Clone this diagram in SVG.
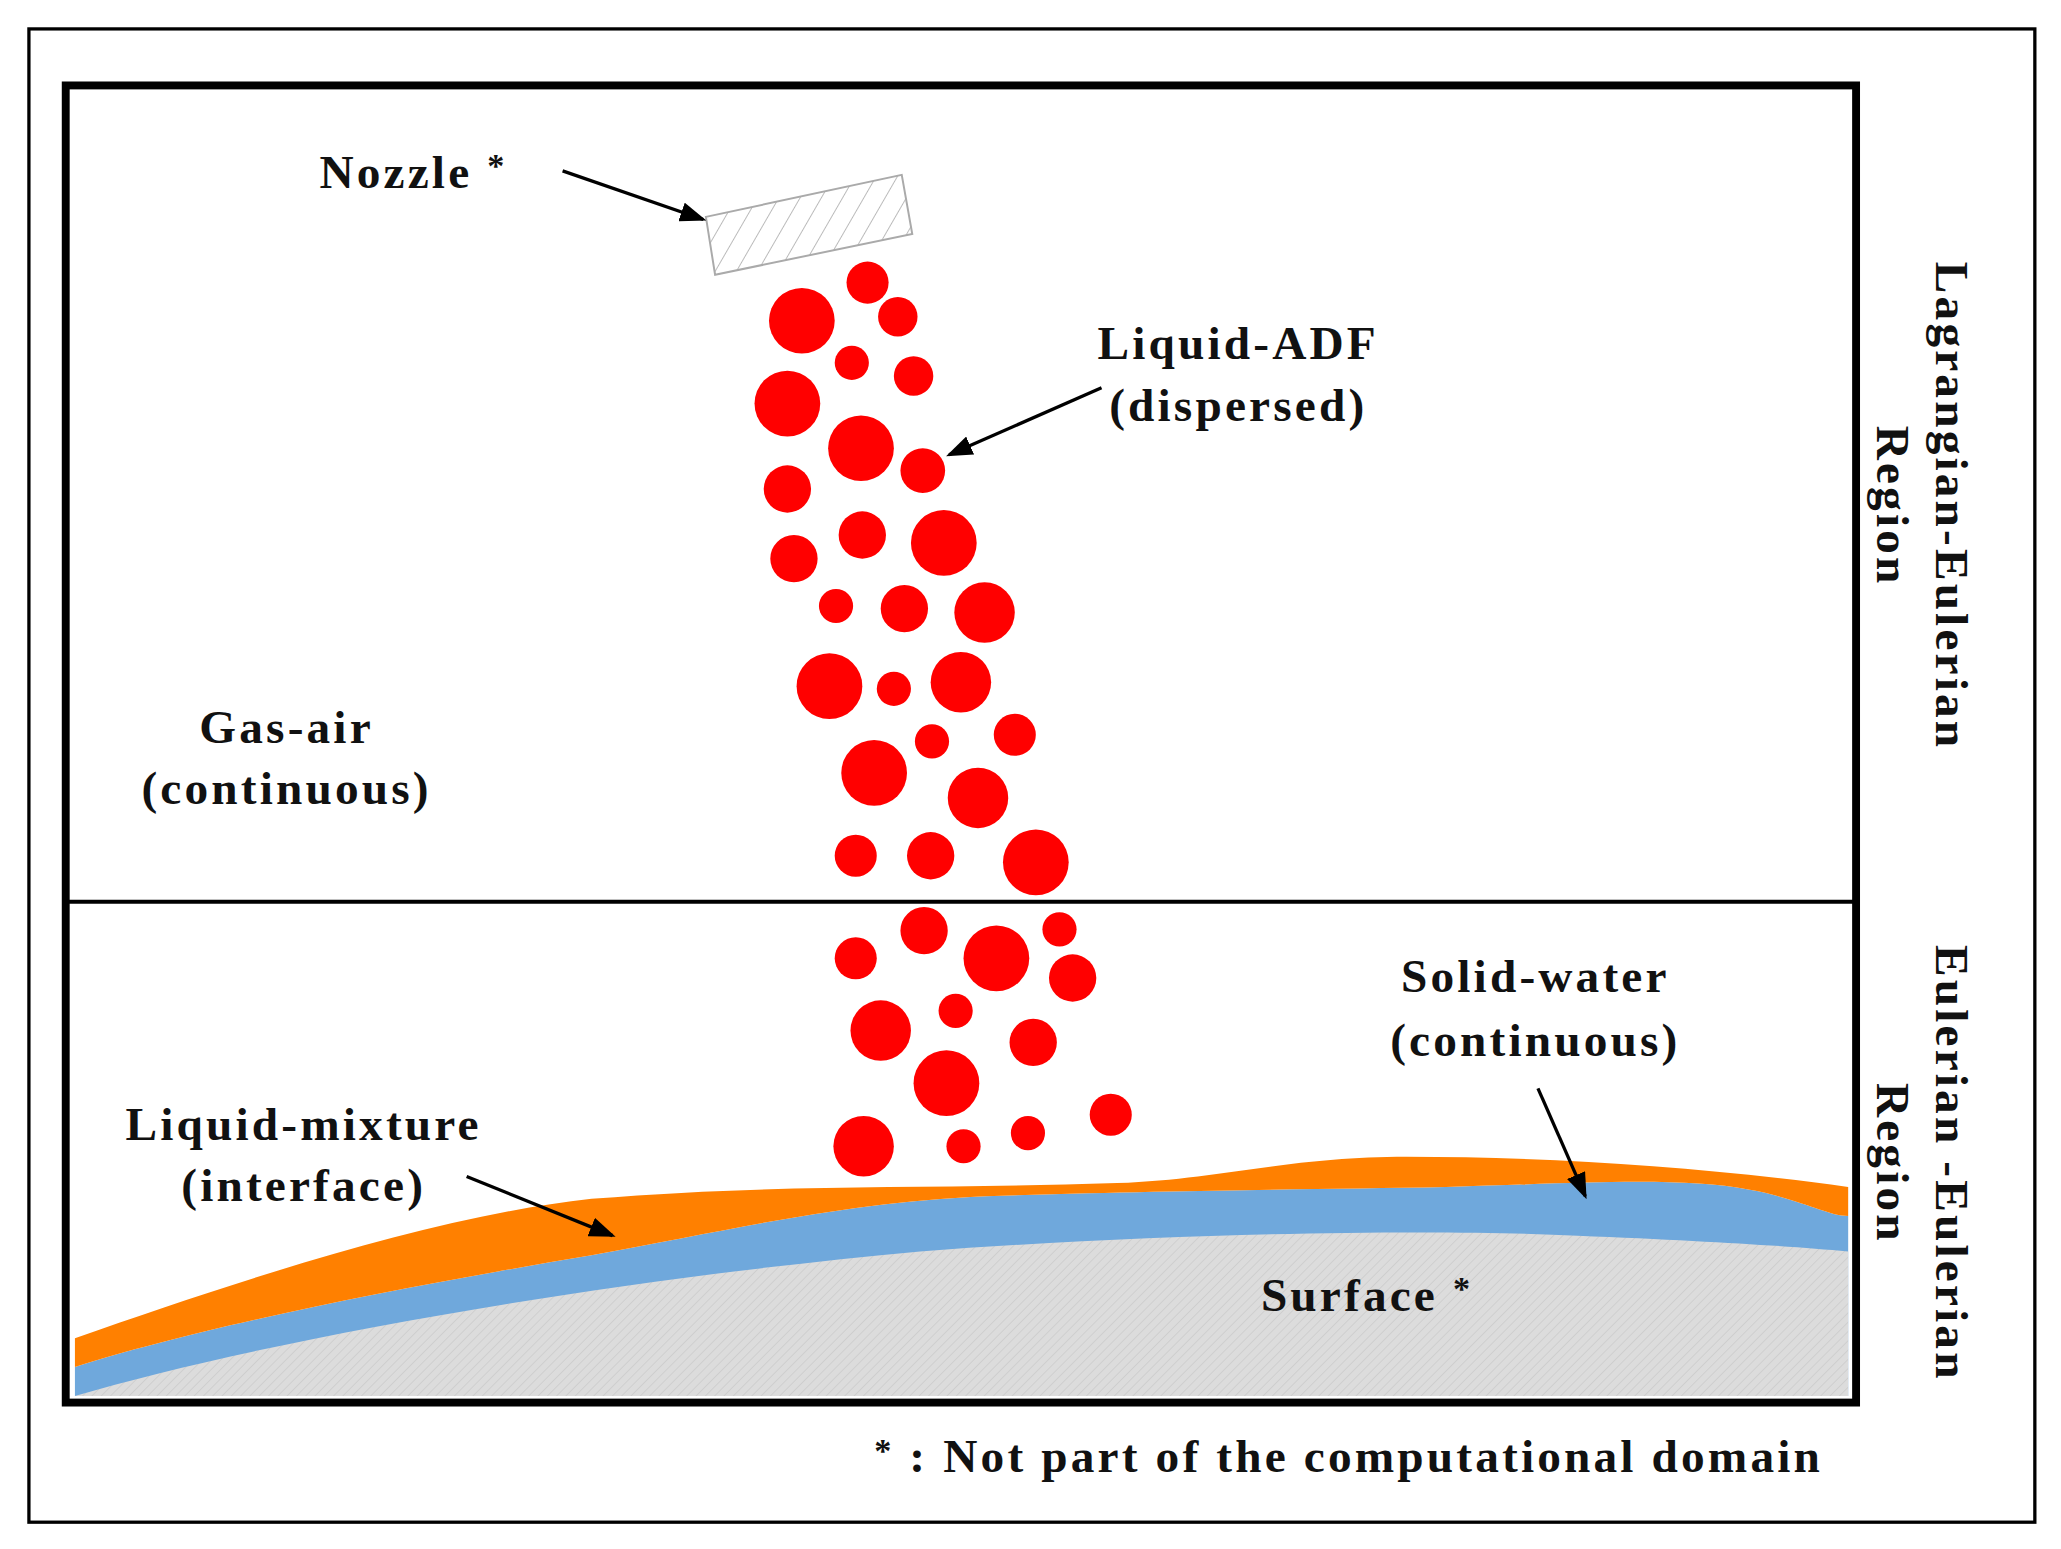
<svg xmlns="http://www.w3.org/2000/svg" width="2061" height="1549" viewBox="0 0 2061 1549">
<style>
.t{font-family:"Liberation Serif",serif;font-weight:bold;font-size:36px;letter-spacing:2.4px;fill:#111}
.c{text-anchor:middle}
.d{fill:#ff0000}
.a{stroke:#000;stroke-width:2.5;fill:none;marker-end:url(#ah)}
</style>
<defs>
<marker id="ah" markerWidth="8" markerHeight="6" refX="7" refY="3" orient="auto" markerUnits="strokeWidth"><path d="M0,0L8,3L0,6z" fill="#000"/></marker>
<pattern id="hatch" width="14" height="14" patternUnits="userSpaceOnUse" patternTransform="rotate(30)"><rect width="14" height="14" fill="#fff"/><line x1="0" y1="0" x2="0" y2="14" stroke="#aaa" stroke-width="1.2"/></pattern>
<pattern id="gh" width="5" height="5" patternUnits="userSpaceOnUse" patternTransform="rotate(45)"><rect width="5" height="5" fill="#dcdcdc"/><line x1="0" y1="0" x2="0" y2="5" stroke="#c8c8c8" stroke-width="1"/></pattern>
</defs>
<rect width="2061" height="1549" fill="#fff"/>
<g transform="scale(1.3145)">
<rect x="22" y="22" width="1526" height="1136" fill="none" stroke="#000" stroke-width="2.5"/>
<g id="layers">
<path d="M57,1062 L57,1040 C150,1010 300,980 450,955 C560,935 640,915 750,910 C900,905 1000,905 1100,903 C1200,900 1280,895 1330,905 C1370,912 1390,925 1406,925 L1406,1062Z" fill="#6fa8dc"/>
<path d="M57,1040 L57,1018 C180,975 330,925 450,912 C600,900 700,905 850,900 C930,897 980,880 1070,880 C1180,880 1300,888 1406,903 L1406,925 C1390,925 1370,912 1330,905 C1280,895 1200,900 1100,903 C1000,905 900,905 750,910 C640,915 560,935 450,955 C300,980 150,1010 57,1040Z" fill="#ff8000"/>
<path d="M57,1062 C200,1020 450,975 700,952 C900,937 1100,935 1200,940 C1300,944 1360,948 1406,952 L1406,1062Z" fill="url(#gh)"/>
</g>
<rect x="50" y="65" width="1362" height="1002" fill="none" stroke="#000" stroke-width="6"/>
<line x1="50" y1="686" x2="1412" y2="686" stroke="#000" stroke-width="3"/>
<g id="nozzle"><polygon points="537,165 686,133 694,178 544,209" fill="url(#hatch)" stroke="#aaa" stroke-width="1.5"/></g>
<g id="droplets">
<circle class="d" cx="660" cy="215" r="16"/><circle class="d" cx="683" cy="241" r="15"/><circle class="d" cx="610" cy="244" r="25"/><circle class="d" cx="648" cy="276" r="13"/><circle class="d" cx="695" cy="286" r="15"/><circle class="d" cx="599" cy="307" r="25"/><circle class="d" cx="655" cy="341" r="25"/><circle class="d" cx="702" cy="358" r="17"/><circle class="d" cx="599" cy="372" r="18"/><circle class="d" cx="656" cy="407" r="18"/><circle class="d" cx="718" cy="413" r="25"/><circle class="d" cx="604" cy="425" r="18"/><circle class="d" cx="636" cy="461" r="13"/><circle class="d" cx="688" cy="463" r="18"/><circle class="d" cx="749" cy="466" r="23"/><circle class="d" cx="631" cy="522" r="25"/><circle class="d" cx="680" cy="524" r="13"/><circle class="d" cx="731" cy="519" r="23"/><circle class="d" cx="709" cy="564" r="13"/><circle class="d" cx="772" cy="559" r="16"/><circle class="d" cx="665" cy="588" r="25"/><circle class="d" cx="744" cy="607" r="23"/><circle class="d" cx="651" cy="651" r="16"/><circle class="d" cx="708" cy="651" r="18"/><circle class="d" cx="788" cy="656" r="25"/><circle class="d" cx="703" cy="708" r="18"/><circle class="d" cx="651" cy="729" r="16"/><circle class="d" cx="758" cy="729" r="25"/><circle class="d" cx="806" cy="707" r="13"/><circle class="d" cx="816" cy="744" r="18"/><circle class="d" cx="670" cy="784" r="23"/><circle class="d" cx="727" cy="769" r="13"/><circle class="d" cx="786" cy="793" r="18"/><circle class="d" cx="720" cy="824" r="25"/><circle class="d" cx="657" cy="872" r="23"/><circle class="d" cx="733" cy="872" r="13"/><circle class="d" cx="782" cy="862" r="13"/><circle class="d" cx="845" cy="848" r="16"/>
</g>
<g id="connectors">
<line class="a" x1="428" y1="130" x2="535" y2="167"/>
<line class="a" x1="838" y1="295" x2="722" y2="346"/>
<line class="a" x1="1170" y1="828" x2="1206" y2="910"/>
<line class="a" x1="355" y1="895" x2="466" y2="940"/>
</g>
<g id="labels">
<text class="t" x="243" y="143">Nozzle <tspan font-size="26" dy="-8">*</tspan></text>
<text class="t c" x="942" y="273">Liquid-ADF</text>
<text class="t c" x="942" y="320">(dispersed)</text>
<text class="t c" x="218" y="565">Gas-air</text>
<text class="t c" x="218" y="612">(continuous)</text>
<text class="t c" x="1168" y="755">Solid-water</text>
<text class="t c" x="1168" y="803">(continuous)</text>
<text class="t c" x="231" y="867">Liquid-mixture</text>
<text class="t c" x="231" y="914">(interface)</text>
<text class="t c" x="1040" y="997">Surface <tspan font-size="26" dy="-8">*</tspan></text>
<text class="t" x="665" y="1120"><tspan font-size="26" dy="-8">*</tspan><tspan dy="8"> : Not part of the computational domain</tspan></text>
<text class="t c" transform="translate(1473,385) rotate(90)">Lagrangian-Eulerian</text>
<text class="t c" transform="translate(1428,385) rotate(90)">Region</text>
<text class="t c" transform="translate(1473,885) rotate(90)">Eulerian -Eulerian</text>
<text class="t c" transform="translate(1428,885) rotate(90)">Region</text>
</g>
</g>
</svg>
